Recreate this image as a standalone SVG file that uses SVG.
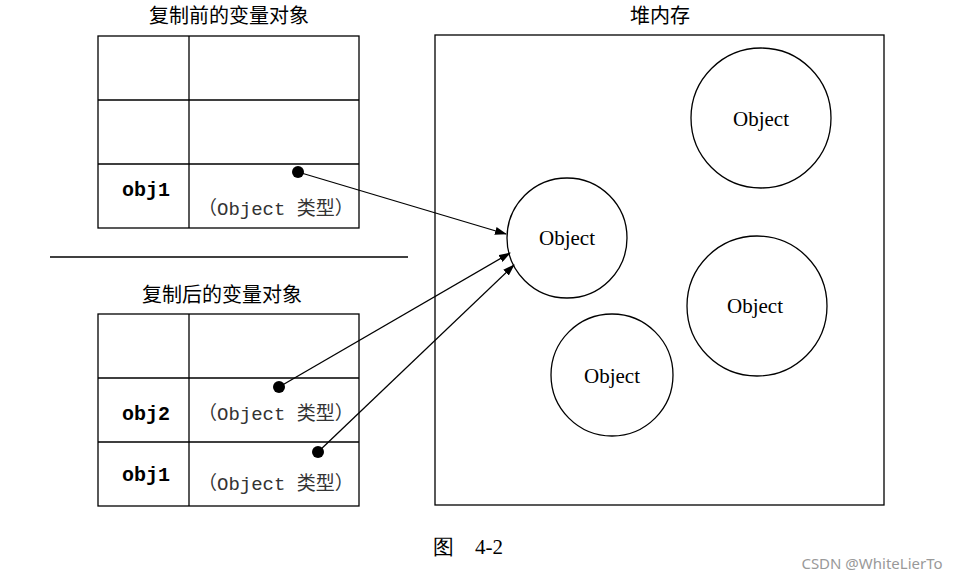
<svg xmlns="http://www.w3.org/2000/svg" width="978" height="582" viewBox="0 0 978 582">
<style>
.ln{stroke:#000;stroke-width:1.3;fill:none}
.t{font-family:"Noto Sans CJK SC","Liberation Serif",serif;font-size:20px;fill:#000}
.v{font-family:"Liberation Mono",monospace;font-weight:bold;font-size:20px;fill:#000}
.ty{font-family:"Liberation Mono","Noto Sans CJK SC",monospace;font-size:19px;fill:#333}
.o{font-family:"Liberation Serif",serif;font-size:21px;fill:#000}
.c{fill:#fff;stroke:#000;stroke-width:1.3}
</style>
<defs><marker id="ar" markerWidth="12" markerHeight="8" refX="11" refY="4" orient="auto" markerUnits="userSpaceOnUse"><path d="M0,0L12,4L0,8z" fill="#000"/></marker></defs>
<rect width="978" height="582" fill="#fff"/>
<g id="before">
<text class="t" x="229" y="23" text-anchor="middle">复制前的变量对象</text>
<rect class="ln" x="98" y="36" width="261" height="192"/>
<path class="ln" d="M189,36V228M98,100H359M98,164H359"/>
<text class="v" x="146" y="196" text-anchor="middle">obj1</text>
<text class="ty" x="198" y="215">（Object 类型）</text>
<circle cx="298" cy="172" r="6"/>
</g>
<path class="ln" d="M50,257H408" stroke-width="2"/>
<g id="after">
<text class="t" x="222" y="302" text-anchor="middle">复制后的变量对象</text>
<rect class="ln" x="98" y="314" width="261" height="192"/>
<path class="ln" d="M189,314V506M98,378H359M98,442H359"/>
<text class="v" x="146" y="420" text-anchor="middle">obj2</text>
<text class="ty" x="198" y="420">（Object 类型）</text>
<circle cx="279" cy="387" r="6"/>
<text class="v" x="146" y="481" text-anchor="middle">obj1</text>
<text class="ty" x="198" y="490">（Object 类型）</text>
<circle cx="318" cy="452" r="6"/>
</g>
<g id="heap">
<text class="t" x="660" y="23" text-anchor="middle">堆内存</text>
<rect class="ln" x="435" y="35" width="449" height="470"/>
</g>
<g id="o1"><circle class="c" cx="567" cy="238" r="60"/><text class="o" x="567" y="245" text-anchor="middle">Object</text></g>
<g id="o2"><circle class="c" cx="761" cy="118" r="70"/><text class="o" x="761" y="126" text-anchor="middle">Object</text></g>
<g id="o3"><circle class="c" cx="757" cy="306" r="70"/><text class="o" x="755" y="313" text-anchor="middle">Object</text></g>
<g id="o4"><circle class="c" cx="612" cy="375" r="61"/><text class="o" x="612" y="383" text-anchor="middle">Object</text></g>
<g id="connectors">
<path class="ln" d="M298,172L506,234" marker-end="url(#ar)"/>
<path class="ln" d="M279,387L510,253" marker-end="url(#ar)"/>
<path class="ln" d="M318,452L514,265" marker-end="url(#ar)"/>
</g>
<text class="o" x="468" y="554" text-anchor="middle">图　4-2</text>
<text x="872" y="569" text-anchor="middle" style="font-family:'Noto Sans','DejaVu Sans',sans-serif;font-size:15px;fill:#999">CSDN @WhiteLierTo</text>
</svg>
